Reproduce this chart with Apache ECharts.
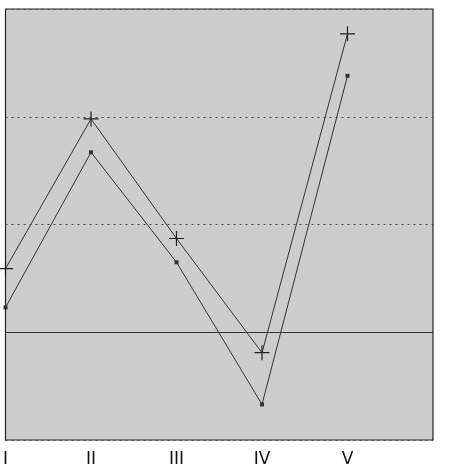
<!DOCTYPE html>
<html>
<head>
<meta charset="utf-8">
<script src="https://cdn.jsdelivr.net/npm/echarts@6/dist/echarts.min.js"></script>
<style>html,body{margin:0;padding:0;background:#fff}#c{width:474px;height:474px}</style>
</head>
<body>
<div id="c"></div>
<script>
const categories = ["I", "II", "III", "IV", "V", ""];
const crossValues = [0.59, 1.98, 0.87, -0.19, 2.77];
const squareValues = [0.23, 1.67, 0.65, -0.67, 2.38];

const chart = echarts.init(document.getElementById("c"));
const plus = "path://M0,4.6H10V5.4H0Z M4.6,0H5.4V10H4.6Z";

chart.setOption({
  animation: false,
  grid: {
    left: -3, right: 41, top: 9, bottom: 34,
    show: true, backgroundColor: "#cdcdcd", borderColor: "#222", borderWidth: 1.2,
  },
  xAxis: {
    type: "category",
    boundaryGap: false,
    data: categories,
    axisLine: { show: false },
    axisTick: { show: false },
    axisLabel: { color: "#111", fontSize: 17, margin: 11, fontFamily: "DejaVu Sans" },
  },
  yAxis: {
    type: "value",
    min: -1, max: 3, interval: 1,
    axisLabel: { show: false },
    axisLine: { show: false },
    axisTick: { show: false },
    splitLine: { lineStyle: { color: "#444", type: [2, 4], width: 1 } },
  },
  series: [
    {
      type: "line",
      data: crossValues,
      symbol: plus,
      symbolSize: 15,
      itemStyle: { color: "#222" },
      lineStyle: { color: "#333", width: 1 },
      markLine: {
        silent: true, symbol: "none", label: { show: false },
        lineStyle: { color: "#333", type: "solid", width: 1 },
        data: [{ yAxis: 0 }],
      },
    },
    {
      type: "line",
      data: squareValues,
      symbol: "rect",
      symbolSize: 4,
      itemStyle: { color: "#333" },
      lineStyle: { color: "#333", width: 1 },
    },
  ],
});
</script>
</body>
</html>
